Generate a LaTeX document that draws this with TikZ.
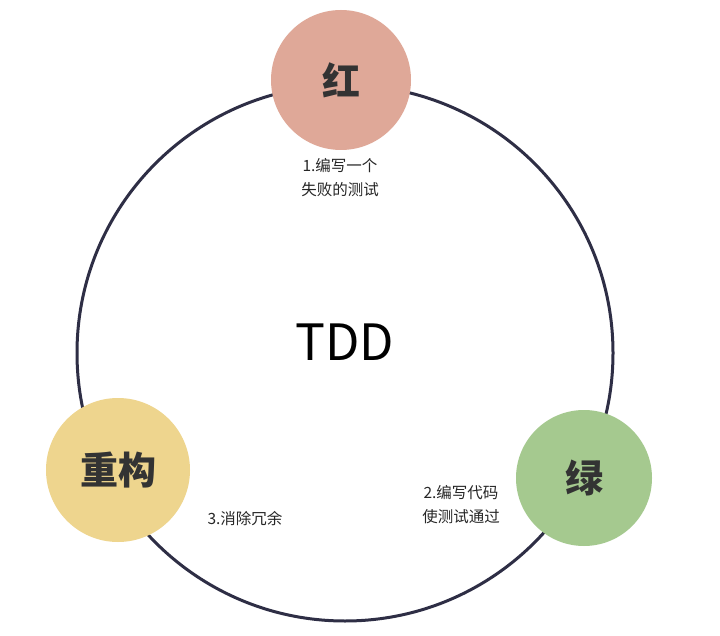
\documentclass[tikz,border=0pt]{standalone}
\usepackage{fontspec}
\setmainfont{Noto Sans CJK SC}
\definecolor{ringc}{HTML}{2E2E45}
\definecolor{redc}{HTML}{DFA898}
\definecolor{greenc}{HTML}{A5C98F}
\definecolor{yellowc}{HTML}{EED58E}
\begin{document}
\begin{tikzpicture}[x=1pt,y=-1pt,
  stage/.style={circle,minimum size=140pt,inner sep=0pt,font=\fontsize{38}{40}\selectfont\bfseries,text=black!80},
  note/.style={align=center,font=\fontsize{15.5}{24}\selectfont,text=black!85}]
\useasboundingbox[fill=white] (0,0) rectangle (720,636);
\node[circle,draw=ringc,line width=3pt,minimum size=536pt,inner sep=0pt] (ring) at (345,353) {};
\node[stage,fill=redc] (red) at (341,80) {红};
\node[stage,fill=greenc,minimum size=136pt] (green) at (584,478) {绿};
\node[stage,fill=yellowc,minimum size=144pt] (yellow) at (118,470) {重构};
\node[font=\fontsize{50}{54}\selectfont,text=black] (tdd) at (345,342) {TDD};
\node[note] (n1) at (340,178) {1.编写一个\\失败的测试};
\node[note] (n2) at (461,505) {2.编写代码\\使测试通过};
\node[note] (n3) at (245,519) {3.消除冗余};
\end{tikzpicture}
\end{document}
